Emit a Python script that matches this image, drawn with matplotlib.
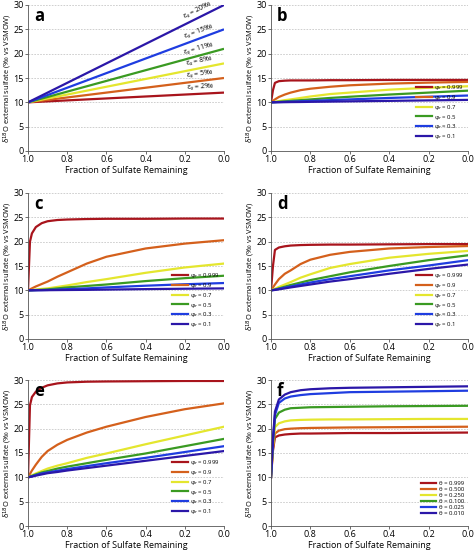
import numpy as np
import matplotlib
matplotlib.use("Agg")
import matplotlib.pyplot as plt

plt.rcParams['font.family'] = ['Open Sans', 'DejaVu Sans']

# fraction of sulfate remaining (x points)
frac = [1.0, 0.99, 0.98, 0.96, 0.93, 0.9, 0.85, 0.8, 0.7, 0.6, 0.4, 0.2, 0.0]

colors = ['#a8141c', '#d4601c', '#e4e62e', '#3a9a22', '#1f3de0', '#2b17a8']

# panel a: straight lines 10 -> 10+eps
eps_a = [2, 5, 8, 11, 15, 20]

phi_labels = ['0.999', '0.9', '0.7', '0.5', '0.3', '0.1']
theta_labels = ['0.999', '0.500', '0.250', '0.100', '0.025', '0.010']

b_red = [10, 12.5, 14.0, 14.35, 14.45, 14.5, 14.5, 14.5, 14.55, 14.55, 14.6, 14.6, 14.6]
b_orange = [10, 10.3, 10.6, 11.1, 11.6, 12.0, 12.5, 12.8, 13.2, 13.5, 13.85, 14.05, 14.2]
b_yellow = [10, 10.05, 10.1, 10.25, 10.45, 10.6, 10.9, 11.2, 11.7, 12.0, 12.6, 13.0, 13.3]
b_green = [10, 10.02, 10.05, 10.12, 10.2, 10.3, 10.45, 10.6, 10.9, 11.15, 11.6, 12.0, 12.4]
b_blue = [10, 10.01, 10.02, 10.05, 10.1, 10.15, 10.22, 10.3, 10.45, 10.6, 10.9, 11.15, 11.4]
b_indigo = [10, 10.0, 10.01, 10.02, 10.03, 10.05, 10.07, 10.1, 10.15, 10.2, 10.3, 10.4, 10.5]

c_red = [10, 20.0, 21.7, 23.0, 23.8, 24.2, 24.45, 24.55, 24.65, 24.7, 24.7, 24.75, 24.75]
c_orange = [10, 10.2, 10.4, 10.8, 11.3, 11.8, 12.8, 13.7, 15.5, 16.9, 18.6, 19.6, 20.3]
c_yellow = [10, 10.03, 10.06, 10.15, 10.3, 10.4, 10.7, 11.0, 11.7, 12.3, 13.6, 14.7, 15.5]
c_green = [10, 10.02, 10.03, 10.07, 10.12, 10.2, 10.4, 10.6, 10.9, 11.2, 11.9, 12.5, 13.0]
c_blue = [10, 10.0, 10.01, 10.03, 10.05, 10.08, 10.15, 10.25, 10.4, 10.6, 10.95, 11.25, 11.5]
c_indigo = [10, 10, 10, 10.01, 10.02, 10.03, 10.05, 10.07, 10.1, 10.15, 10.25, 10.33, 10.4]

d_red = [10, 15.0, 18.3, 18.8, 19.05, 19.2, 19.3, 19.35, 19.4, 19.4, 19.45, 19.5, 19.5]
d_orange = [10, 10.6, 11.2, 12.3, 13.4, 14.1, 15.4, 16.3, 17.3, 17.9, 18.6, 18.9, 19.1]
d_yellow = [10, 10.15, 10.3, 10.7, 11.2, 11.7, 12.6, 13.3, 14.6, 15.4, 16.7, 17.5, 18.1]
d_green = [10, 10.08, 10.16, 10.4, 10.75, 11.1, 11.6, 12.1, 12.9, 13.7, 15.0, 16.2, 17.2]
d_blue = [10, 10.06, 10.12, 10.3, 10.55, 10.8, 11.2, 11.6, 12.3, 12.9, 14.1, 15.1, 16.2]
d_indigo = [10, 10.04, 10.08, 10.2, 10.4, 10.6, 10.9, 11.2, 11.8, 12.3, 13.4, 14.4, 15.3]

e_red = [10, 24.8, 26.5, 27.6, 28.4, 28.9, 29.3, 29.5, 29.65, 29.7, 29.75, 29.8, 29.8]
e_orange = [10, 10.7, 11.4, 12.6, 14.2, 15.4, 16.7, 17.7, 19.2, 20.4, 22.4, 24.0, 25.2]
e_yellow = [10, 10.2, 10.4, 10.8, 11.3, 11.8, 12.4, 12.9, 14.0, 14.9, 16.8, 18.6, 20.4]
e_green = [10, 10.15, 10.3, 10.6, 11.0, 11.3, 11.8, 12.2, 12.9, 13.6, 14.9, 16.4, 17.9]
e_blue = [10, 10.1, 10.2, 10.45, 10.8, 11.0, 11.35, 11.7, 12.3, 12.9, 14.0, 15.2, 16.4]
e_indigo = [10, 10.08, 10.15, 10.35, 10.6, 10.85, 11.1, 11.4, 11.9, 12.4, 13.4, 14.4, 15.4]

f_red = [10, 15.5, 18.2, 18.6, 18.8, 18.9, 19.0, 19.0, 19.05, 19.1, 19.1, 19.15, 19.2]
f_orange = [10, 16.0, 19.0, 19.6, 19.9, 20.0, 20.1, 20.15, 20.2, 20.25, 20.3, 20.35, 20.4]
f_yellow = [10, 16.5, 20.3, 21.1, 21.5, 21.7, 21.8, 21.85, 21.9, 21.9, 21.95, 22.0, 22.0]
f_green = [10, 17.0, 22.0, 23.3, 23.9, 24.2, 24.3, 24.4, 24.45, 24.5, 24.6, 24.65, 24.7]
f_blue = [10, 17.5, 22.8, 25.3, 26.2, 26.6, 26.9, 27.1, 27.3, 27.5, 27.6, 27.7, 27.8]
f_indigo = [10, 18.0, 23.5, 26.0, 27.0, 27.5, 27.9, 28.1, 28.3, 28.4, 28.5, 28.6, 28.7]

panels = {
    'b': [b_red, b_orange, b_yellow, b_green, b_blue, b_indigo],
    'c': [c_red, c_orange, c_yellow, c_green, c_blue, c_indigo],
    'd': [d_red, d_orange, d_yellow, d_green, d_blue, d_indigo],
    'e': [e_red, e_orange, e_yellow, e_green, e_blue, e_indigo],
    'f': [f_red, f_orange, f_yellow, f_green, f_blue, f_indigo],
}

fig = plt.figure(figsize=(4.74, 5.5), dpi=100)

W = 474.0
H = 550.0
cols = [(28, 224), (271, 468)]
rows = [(5, 151), (193, 339), (380, 526)]
letters = [['a', 'b'], ['c', 'd'], ['e', 'f']]

axes = {}
for r, (top, bot) in enumerate(rows):
    for c, (lft, rgt) in enumerate(cols):
        ax = fig.add_axes([lft / W, 1 - bot / H, (rgt - lft) / W, (bot - top) / H])
        axes[letters[r][c]] = ax

lw = 1.6
for key, ax in axes.items():
    ax.set_xlim(1.0, 0.0)
    ax.set_ylim(0, 30)
    ax.set_xticks([1.0, 0.8, 0.6, 0.4, 0.2, 0.0])
    ax.set_xticklabels(['1.0', '0.8', '0.6', '0.4', '0.2', '0.0'])
    ax.set_yticks([0, 5, 10, 15, 20, 25, 30])
    ax.tick_params(labelsize=6.5, length=2, width=0.6, color='#555555', pad=1)
    ax.grid(axis='y', linestyle=(0, (2, 1.5)), color='#c8c8c8', linewidth=0.6)
    ax.set_axisbelow(True)
    for s in ['top', 'right']:
        ax.spines[s].set_visible(False)
    for s in ['left', 'bottom']:
        ax.spines[s].set_linewidth(0.6)
        ax.spines[s].set_color('#555555')
    ax.set_xlabel('Fraction of Sulfate Remaining', fontsize=6.5, labelpad=1)
    ax.set_ylabel('δ$^{18}$O external sulfate (‰ vs VSMOW)', fontsize=5.4, va='center')
    bb = ax.get_position()
    ax.yaxis.set_label_coords(-(20.0 / W) / bb.width, 0.5)
    ax.text(0.03, 0.985, key, transform=ax.transAxes, fontsize=12, fontweight='bold',
            ha='left', va='top')

# panel a
ax = axes['a']
for e, col in zip(eps_a, colors):
    ax.plot([1.0, 0.0], [10, 10 + e], color=col, lw=lw, solid_capstyle='butt')
for e, col in zip(eps_a, colors):
    p1 = ax.transData.transform((1.0, 10))
    p2 = ax.transData.transform((0.0, 10 + e))
    ang = np.degrees(np.arctan2(p2[1] - p1[1], p2[0] - p1[0]))
    xt = 0.12
    yt = 10 + e * (1 - xt) + 0.3
    ax.text(xt, yt, 'ε$_s$ = %d‰' % e, fontsize=5, rotation=ang,
            rotation_mode='anchor', ha='center', va='bottom')

# panels b-f
for key in ['b', 'c', 'd', 'e', 'f']:
    ax = axes[key]
    labs = theta_labels if key == 'f' else phi_labels
    for ys, col, lab in zip(panels[key], colors, labs):
        if key == 'f':
            txt = 'θ = ' + lab
        else:
            txt = 'φ$_r$ = ' + lab
        ax.plot(frac, ys, color=col, lw=lw, label=txt, solid_joinstyle='round')
    ax.legend(loc='lower right', frameon=False, fontsize=4.3, handlelength=2.6,
              handletextpad=0.4, labelspacing=0.12, borderaxespad=0.3,
              bbox_to_anchor=(1.0, 0.04))

fig.savefig('out.png', dpi=100)
